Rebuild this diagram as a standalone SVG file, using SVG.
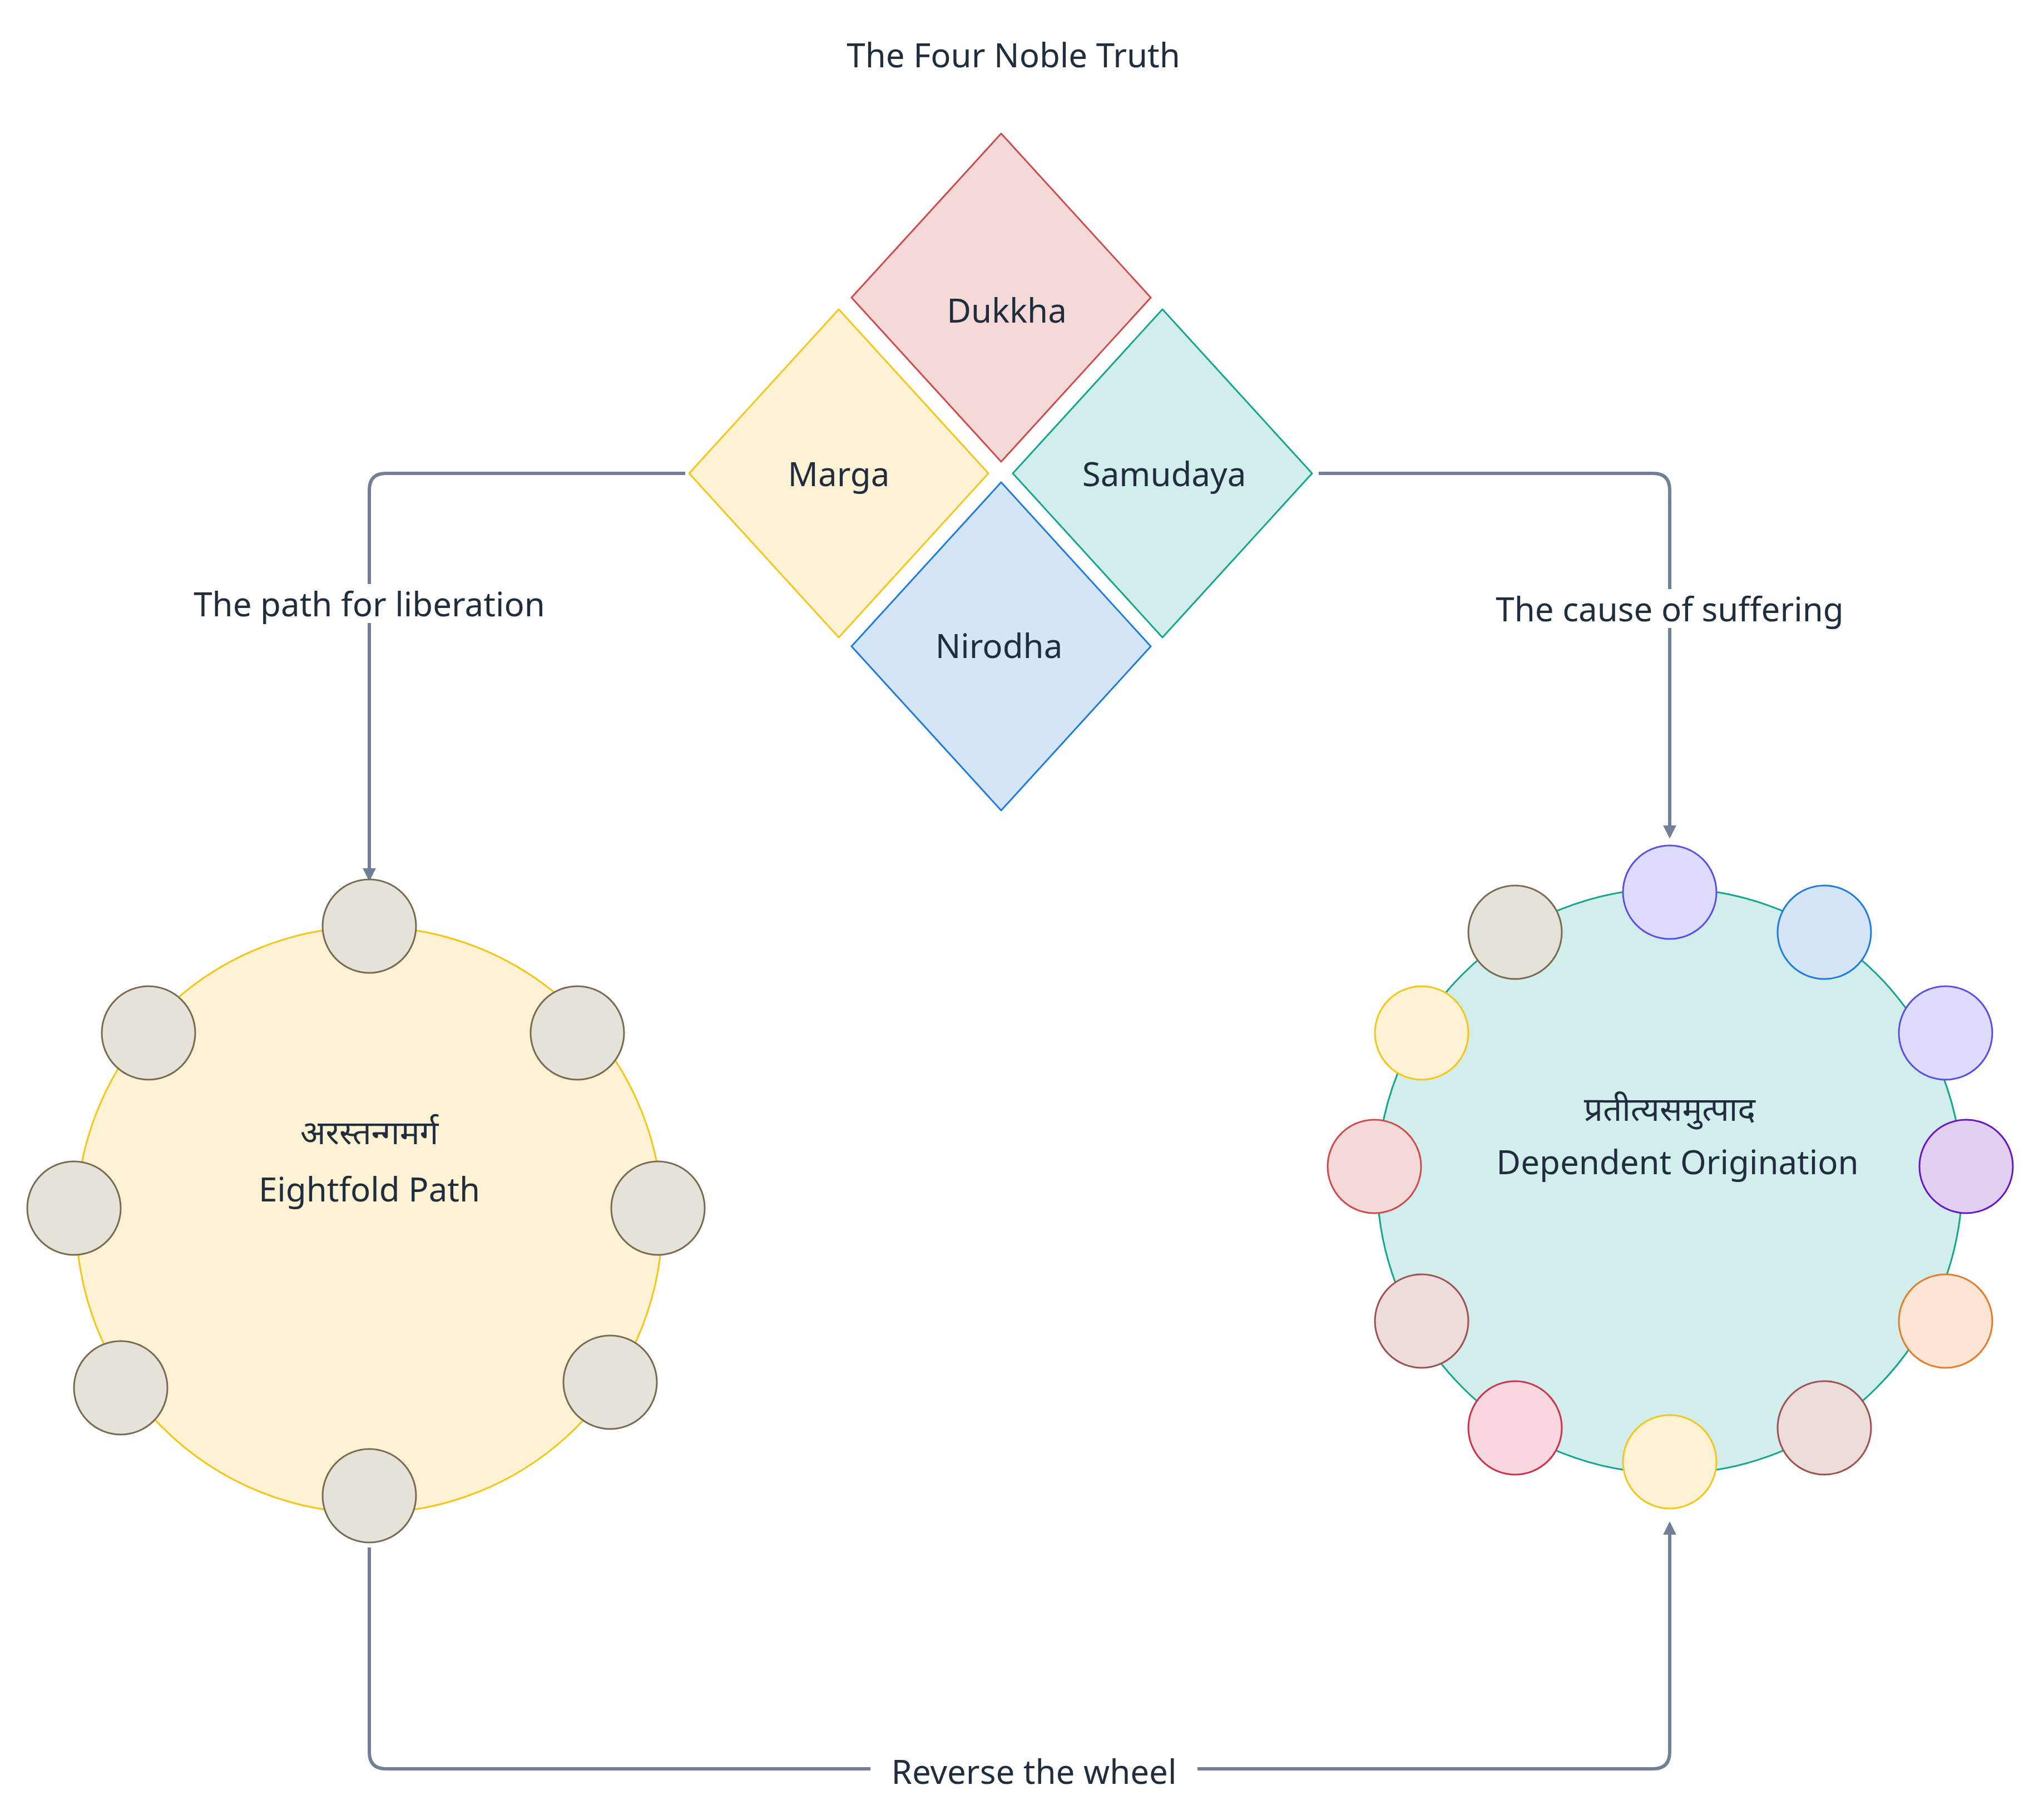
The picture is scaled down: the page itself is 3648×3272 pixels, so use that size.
<svg xmlns="http://www.w3.org/2000/svg" width="3648" height="3272" viewBox="0 0 3648 3272">
<style>
text{font-family:"Noto Sans","DejaVu Sans",sans-serif;font-size:60px;fill:#1f2d3d;text-anchor:middle;dominant-baseline:central}
.c{stroke:#718096;stroke-width:6;fill:none;stroke-linejoin:round}
.lbl{fill:#fff}
.d{stroke-width:3;stroke-linejoin:round}
.s{fill:#e5e2da;stroke:#7a6a50;stroke-width:3}
</style>
<defs><marker id="a" viewBox="0 0 10 10" refX="8" refY="5" markerWidth="4" markerHeight="4" orient="auto"><path d="M0,0L10,5L0,10z" fill="#718096"/></marker></defs>
<rect width="3648" height="3272" fill="#fff"/>
<text x="1822" y="98">The Four Noble Truth</text>
<g id="connectors">
<path class="c" d="M1232,851H694Q664,851 664,881V1580" marker-end="url(#a)"/>
<rect class="lbl" x="300" y="1050" width="728" height="70"/>
<text x="664" y="1085">The path for liberation</text>
<path class="c" d="M2371,851H2972Q3002,851 3002,881V1503" marker-end="url(#a)"/>
<rect class="lbl" x="2650" y="1059" width="704" height="70"/>
<text x="3002" y="1094">The cause of suffering</text>
<path class="c" d="M664,2782V3150Q664,3180 694,3180H2972Q3002,3180 3002,3150V2740" marker-end="url(#a)"/>
<rect class="lbl" x="1565" y="3150" width="588" height="70"/>
<text x="1859" y="3184">Reverse the wheel</text>
</g>
<g id="dukkha"><path class="d" d="M1800,240L2069,535L1800,830L1531,535Z" fill="#f5d9d9" stroke="#d04a4a"/><text x="1810" y="557">Dukkha</text></g>
<g id="marga"><path class="d" d="M1508,556L1777,851L1508,1146L1239,851Z" fill="#fdf2d4" stroke="#f5c518"/><text x="1508" y="851">Marga</text></g>
<g id="samudaya"><path class="d" d="M2090,556L2359,851L2090,1146L1821,851Z" fill="#d1eeec" stroke="#14a68c"/><text x="2093" y="851">Samudaya</text></g>
<g id="nirodha"><path class="d" d="M1800,867L2069,1162L1800,1457L1531,1162Z" fill="#d3e5f6" stroke="#1e7be0"/><text x="1796" y="1160">Nirodha</text></g>
<g id="eightfold">
<circle cx="664" cy="2193" r="527" fill="#fdf2d4" stroke="#f5c518" stroke-width="3"/>
<text x="664" y="2034">अरस्तन्गमर्ग</text>
<text x="664" y="2137">Eightfold Path</text>
<circle class="s" cx="664" cy="1665" r="84"/><circle class="s" cx="1038" cy="1857" r="84"/>
<circle class="s" cx="1183" cy="2172" r="84"/><circle class="s" cx="1097" cy="2485" r="84"/>
<circle class="s" cx="664" cy="2689" r="84"/><circle class="s" cx="217" cy="2495" r="84"/>
<circle class="s" cx="133" cy="2172" r="84"/><circle class="s" cx="267" cy="1857" r="84"/>
</g>
<g id="dependent">
<circle cx="3002" cy="2123" r="526" fill="#d1eeec" stroke="#14a68c" stroke-width="3"/>
<text x="3002" y="1992">प्रतीत्यसमुत्पाद</text>
<text x="3016" y="2088">Dependent Origination</text>
<g stroke-width="3">
<circle cx="3002" cy="1604" r="84" fill="#dedcfc" stroke="#5a4ee8"/>
<circle cx="3280" cy="1676" r="84" fill="#d3e5f6" stroke="#1e7be0"/>
<circle cx="3498" cy="1857" r="84" fill="#dedcfc" stroke="#5a4ee8"/>
<circle cx="3535" cy="2097" r="84" fill="#e0cff0" stroke="#6a14c8"/>
<circle cx="3498" cy="2375" r="84" fill="#fde5d5" stroke="#e87a28"/>
<circle cx="3280" cy="2567" r="84" fill="#ecdddb" stroke="#a05050"/>
<circle cx="3002" cy="2628" r="84" fill="#fdf2d4" stroke="#f5c518"/>
<circle cx="2724" cy="2567" r="84" fill="#f8d8de" stroke="#d0304a"/>
<circle cx="2556" cy="2375" r="84" fill="#ecdddb" stroke="#a05050"/>
<circle cx="2471" cy="2097" r="84" fill="#f5d9d9" stroke="#d04a4a"/>
<circle cx="2556" cy="1857" r="84" fill="#fdf2d4" stroke="#f5c518"/>
<circle cx="2724" cy="1676" r="84" fill="#e5e2da" stroke="#7a6a50"/>
</g>
</g>
</svg>
